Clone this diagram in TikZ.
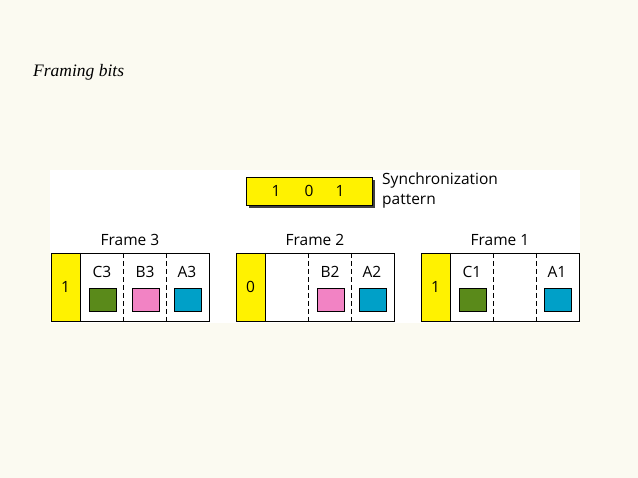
\documentclass[tikz,border=0pt]{standalone}
\usepackage{fontspec}
\setmainfont{Liberation Serif}
\newfontfamily\sfx{Open Sans}
\definecolor{bg}{HTML}{FBFAF1}
\definecolor{cgreen}{HTML}{5A8A1A}
\definecolor{cpink}{HTML}{F283C4}
\definecolor{ccyan}{HTML}{00A0C8}
\begin{document}
\begin{tikzpicture}[x=1pt,y=-1pt,
  lbl/.style={font=\sfx\fontsize{15.5}{17}\selectfont, text=black, inner sep=0},
  fr/.style={draw=black, line width=0.8pt},
  sq/.style={draw=black, line width=0.8pt, minimum width=27pt, minimum height=23pt, inner sep=0},
  dsh/.style={black, line width=0.8pt, dash pattern=on 5pt off 3pt}]
\useasboundingbox (0,0) rectangle (638,478);
\fill[bg] (0,0) rectangle (638,478);
\node[anchor=west, inner sep=0, font=\fontsize{17.5}{19}\selectfont\itshape] (title) at (33,72) {Framing bits};
\fill[white] (50,170) rectangle (580,323);
% sync
\fill[black!75] (249,180) rectangle (375,208);
\node[fr, fill=yellow, minimum width=126pt, minimum height=28pt, inner sep=0, anchor=north west] (sync) at (246,177) {};
\node[lbl] (s1) at (276,191) {1};
\node[lbl] (s2) at (309,191) {0};
\node[lbl] (s3) at (340,191) {1};
\node[lbl, anchor=west] (sp1) at (382,180) {Synchronization};
\node[lbl, anchor=west] (sp2) at (382,201) {pattern};
% frames
\foreach \n/\x/\b/\la/\lb/\lc in {3/51/1/C3/B3/A3, 2/236/0//B2/A2, 1/421/1/C1//A1}{
  \fill[yellow] (\x,253) rectangle (\x+29,321);
  \draw[fr] (\x,253) rectangle (\x+158,321);
  \draw[fr] (\x+29,253) -- (\x+29,321);
  \draw[dsh] (\x+72,253) -- (\x+72,321);
  \draw[dsh] (\x+115,253) -- (\x+115,321);
  \node[lbl] (f\n) at (\x+79,240) {Frame \n};
  \node[lbl] (b\n) at (\x+14.5,287) {\b};
  \node[lbl] (la\n) at (\x+51,272) {\la};
  \node[lbl] (lb\n) at (\x+94,272) {\lb};
  \node[lbl] (lc\n) at (\x+136,272) {\lc};
  \node[sq, fill=ccyan] (qc\n) at (\x+136.5,299.5) {};
}
\node[sq, fill=cgreen] (qa3) at (102.5,299.5) {};
\node[sq, fill=cpink] (qb3) at (145.5,299.5) {};
\node[sq, fill=cpink] (qb2) at (330.5,299.5) {};
\node[sq, fill=cgreen] (qa1) at (472.5,299.5) {};
\end{tikzpicture}
\end{document}
